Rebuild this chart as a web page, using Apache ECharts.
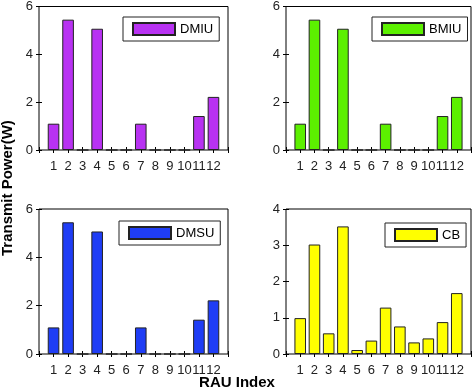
<!DOCTYPE html>
<html><head><meta charset="utf-8">
<script src="https://cdn.jsdelivr.net/npm/echarts@6/dist/echarts.min.js"></script>
<style>html,body{margin:0;padding:0;background:#fff}#c{width:474px;height:390px}</style>
</head><body><div id="c"></div>
<script>
const categories = [1,2,3,4,5,6,7,8,9,10,11,12];
const dmiu = [1.1, 5.45, 0, 5.07, 0, 0, 1.1, 0, 0, 0, 1.42, 2.22];
const bmiu = [1.1, 5.45, 0, 5.07, 0, 0, 1.1, 0, 0, 0, 1.42, 2.22];
const dmsu = [1.1, 5.45, 0, 5.07, 0, 0, 1.1, 0, 0, 0, 1.42, 2.22];
const cb   = [0.99, 3.02, 0.57, 3.52, 0.11, 0.37, 1.28, 0.76, 0.32, 0.43, 0.88, 1.68];
const seriesNames = ['DMIU','BMIU','DMSU','CB'];
const colors = ['#B832F2','#5CF000','#1F3DF5','#FFFF00'];
const yMax = [6, 6, 6, 4];
const yInterval = [2, 2, 2, 1];
const yTitle = 'Transmit Power(W)';
const xTitle = 'RAU Index';
const allData = [dmiu, bmiu, dmsu, cb];

const grids = [
  {left: 39, top: 5, width: 189, height: 145},
  {left: 286, top: 5, width: 186, height: 145},
  {left: 39, top: 209, width: 189, height: 145},
  {left: 286, top: 209, width: 186, height: 145}
];
const legendPos = [
  {left: 123, top: 17},
  {left: 372, top: 17},
  {left: 119, top: 221},
  {left: 385, top: 223}
];
const font = 'Liberation Sans, Arial, sans-serif';
const xAxis = [], yAxis = [], series = [], legend = [];
grids.forEach((g, i) => {
  g.show = true; g.borderColor = '#000'; g.borderWidth = 1; g.containLabel = false;
  xAxis.push({
    type: 'value', gridIndex: i, min: 0, max: 13, interval: 1, position: 'bottom',
    axisLine: {show: false},
    axisTick: {show: true, inside: true, length: 3, lineStyle: {color: '#000'}},
    splitLine: {show: false},
    axisLabel: {color: '#222', fontSize: 13, fontFamily: font, margin: 10,
      formatter: v => (v >= 1 && v <= 12) ? String(categories[v-1]) : ''}
  });
  xAxis.push({
    type: 'value', gridIndex: i, min: 0, max: 13, interval: 1, position: 'top',
    axisLine: {show: false},
    axisTick: {show: true, inside: true, length: 3, lineStyle: {color: '#000'}},
    splitLine: {show: false}, axisLabel: {show: false}
  });
  yAxis.push({
    type: 'value', gridIndex: i, min: 0, max: yMax[i], interval: yInterval[i], position: 'left',
    axisLine: {show: false},
    axisTick: {show: true, inside: true, length: 3, lineStyle: {color: '#000'}},
    splitLine: {show: false},
    axisLabel: {color: '#222', fontSize: 13, fontFamily: font, margin: 6}
  });
  yAxis.push({
    type: 'value', gridIndex: i, min: 0, max: yMax[i], interval: yInterval[i], position: 'right',
    axisLine: {show: false},
    axisTick: {show: true, inside: true, length: 3, lineStyle: {color: '#000'}},
    splitLine: {show: false}, axisLabel: {show: false}
  });
  series.push({
    name: seriesNames[i], type: 'bar', xAxisIndex: 2*i, yAxisIndex: 2*i,
    barWidth: 11.6,
    data: allData[i].map((v, k) => [categories[k], v]),
    itemStyle: {color: colors[i], borderColor: '#222', borderWidth: 1},
    z: 1
  });
  legend.push({
    data: [{name: seriesNames[i], icon: 'rect'}], left: legendPos[i].left, top: legendPos[i].top,
    padding: [5, 6, 5, 9], itemWidth: 42, itemHeight: 12, itemGap: 4,
    borderColor: '#222', borderWidth: 1, backgroundColor: '#fff',
    textStyle: {color: '#000', fontSize: 13, fontFamily: font},
    selectedMode: false
  });
});

const chart = echarts.init(document.getElementById('c'), null, {renderer: 'canvas'});
chart.setOption({
  animation: false,
  backgroundColor: '#fff',
  grid: grids, xAxis: xAxis, yAxis: yAxis, series: series, legend: legend,
  graphic: [
    {type: 'text', x: 0, y: 256, rotation: Math.PI/2,
     style: {text: yTitle, font: 'bold 15px ' + font, fill: '#000', textAlign: 'left', textVerticalAlign: 'top'}},
    {type: 'text', left: 'center', top: 375,
     style: {text: xTitle, font: 'bold 15px ' + font, fill: '#000'}}
  ]
});
</script></body></html>
